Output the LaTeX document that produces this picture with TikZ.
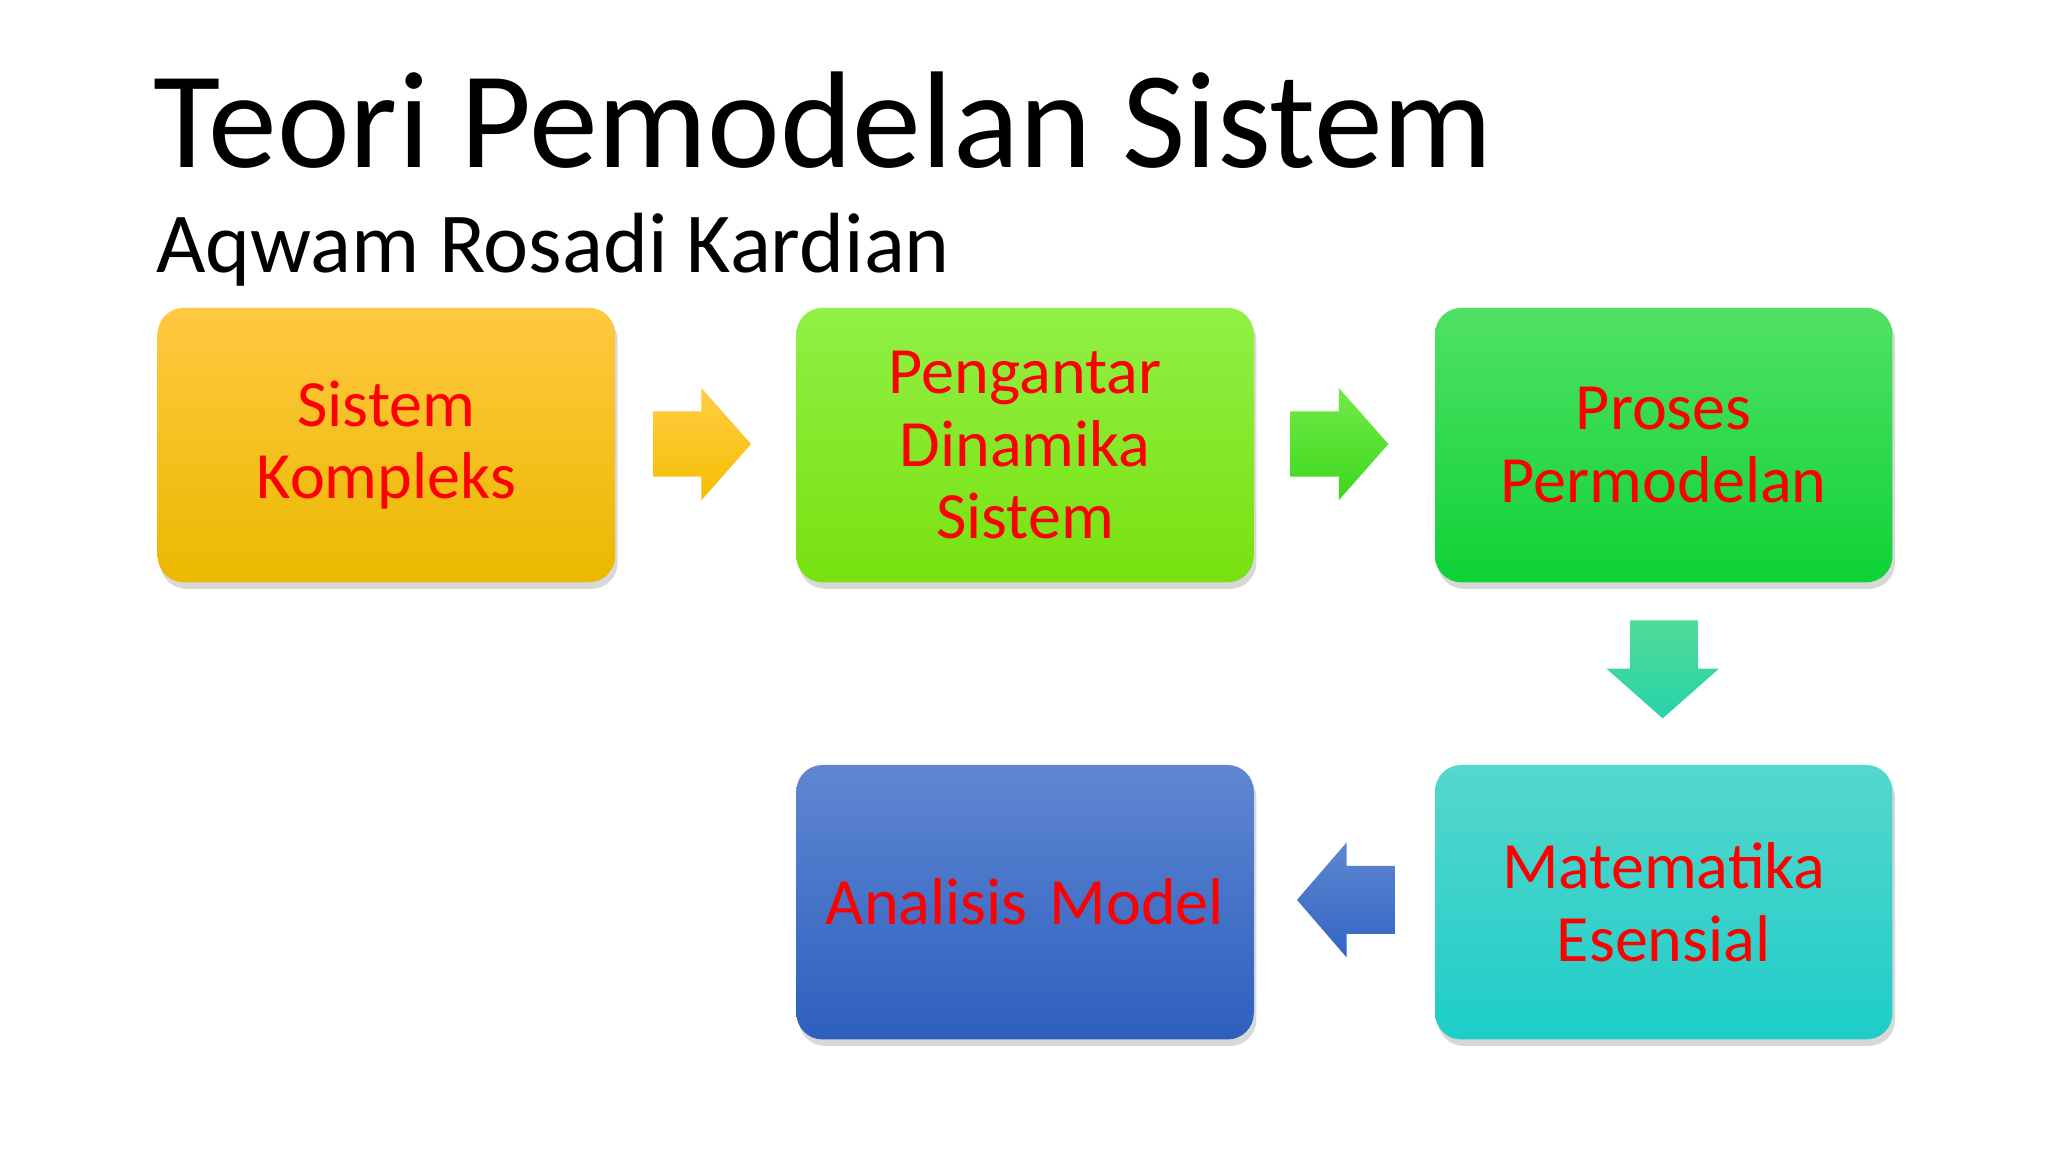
\documentclass[tikz,border=0pt]{standalone}
\usepackage{fontspec}
\setmainfont{Carlito}
\usetikzlibrary{shadows}
\begin{document}
\begin{tikzpicture}[x=0.01cm,y=-0.01cm,
 box/.style={rounded corners=0.2cm,minimum width=3.5cm,minimum height=2.1cm,anchor=north west,
   inner sep=0pt,text width=3.4cm,
   align=center,text=red,font=\fontsize{14.4}{15.8}\selectfont,
   drop shadow={shadow xshift=0.2mm,shadow yshift=-0.5mm,opacity=0.3}},
 arr/.style={draw=none}]
\useasboundingbox (0,0) rectangle (1568,882);
\fill[white] (0,0) rectangle (1568,882);
\node[anchor=base west,inner sep=0,font=\fontsize{30}{30}\selectfont] (t) at (117,128) {Teori Pemodelan Sistem};
\node[anchor=base west,inner sep=0,font=\fontsize{18.6}{18.6}\selectfont] (s) at (119,209) {Aqwam Rosadi Kardian};
\node[box,top color={rgb,255:red,255;green,200;blue,65},bottom color={rgb,255:red,235;green,185;blue,0}] (b1) at (120,235) {Sistem\\Kompleks};
\node[box,top color={rgb,255:red,145;green,240;blue,70},bottom color={rgb,255:red,120;green,225;blue,15}] (b2) at (609,235) {Pengantar\\Dinamika\\Sistem};
\node[box,top color={rgb,255:red,80;green,225;blue,100},bottom color={rgb,255:red,15;green,210;blue,55}] (b3) at (1098,235) {Proses\\Permodelan};
\node[box,top color={rgb,255:red,85;green,215;blue,205},bottom color={rgb,255:red,30;green,205;blue,200}] (b5) at (1098,585) {Matematika\\Esensial};
\node[box,top color={rgb,255:red,95;green,135;blue,210},bottom color={rgb,255:red,45;green,95;blue,190}] (b4) at (609,585) {Analisis Model};
\shade[top color={rgb,255:red,255;green,205;blue,70},bottom color={rgb,255:red,245;green,190;blue,0}] (500,315)--(537,315)--(537,297)--(575,340)--(537,383)--(537,365)--(500,365)--cycle;
\shade[top color={rgb,255:red,115;green,235;blue,70},bottom color={rgb,255:red,60;green,215;blue,30}] (988,315)--(1025,315)--(1025,297)--(1063,340)--(1025,383)--(1025,365)--(988,365)--cycle;
\shade[top color={rgb,255:red,80;green,220;blue,150},bottom color={rgb,255:red,40;green,210;blue,170}] (1248,475)--(1300,475)--(1300,512)--(1316,512)--(1273,550)--(1230,512)--(1248,512)--cycle;
\shade[top color={rgb,255:red,95;green,135;blue,210},bottom color={rgb,255:red,50;green,100;blue,195}] (1068,663)--(1031,663)--(1031,645)--(993,689)--(1031,733)--(1031,715)--(1068,715)--cycle;
\end{tikzpicture}
\end{document}
